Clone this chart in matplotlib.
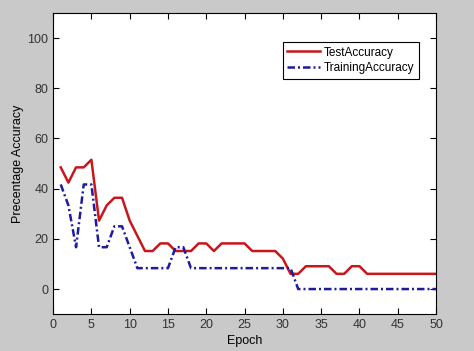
import matplotlib
matplotlib.use('Agg')
import matplotlib.pyplot as plt

plt.rcParams['font.family'] = ['Liberation Sans', 'DejaVu Sans']

epochs = list(range(1, 51))
test_acc = [48.48, 42.42, 48.48, 48.48, 51.52, 27.27, 33.33, 36.36, 36.36, 27.27,
            21.21, 15.15, 15.15, 18.18, 18.18, 15.15, 15.15, 15.15, 18.18, 18.18,
            15.15, 18.18, 18.18, 18.18, 18.18, 15.15, 15.15, 15.15, 15.15, 12.12,
            6.06, 6.06, 9.09, 9.09, 9.09, 9.09, 6.06, 6.06, 9.09, 9.09,
            6.06, 6.06, 6.06, 6.06, 6.06, 6.06, 6.06, 6.06, 6.06, 6.06]
train_acc = [41.67, 33.33, 16.67, 41.67, 41.67, 16.67, 16.67, 25.0, 25.0, 16.67,
             8.33, 8.33, 8.33, 8.33, 8.33, 16.67, 16.67, 8.33, 8.33, 8.33,
             8.33, 8.33, 8.33, 8.33, 8.33, 8.33, 8.33, 8.33, 8.33, 8.33,
             8.33, 0, 0, 0, 0, 0, 0, 0, 0, 0,
             0, 0, 0, 0, 0, 0, 0, 0, 0, 0]

fig = plt.figure(figsize=(4.74, 3.51), dpi=100, facecolor='#c9c9c9')
ax = fig.add_axes([0.112, 0.105, 0.808, 0.858])

ax.plot(epochs, test_acc, color='#c8161d', linewidth=1.8, label='TestAccuracy')
ax.plot(epochs, train_acc, color='#1c1c9c', linewidth=1.8,
        linestyle=(0, (3, 1.2, 0.8, 1.2)), label='TrainingAccuracy')

ax.set_xlim(0, 50)
ax.set_ylim(-10, 110)
ax.set_xticks(range(0, 51, 5))
ax.set_yticks(range(0, 101, 20))
ax.tick_params(direction='in', top=True, right=True, labelsize=9, length=4,
               labelcolor='#333333')
ax.set_xlabel('Epoch', fontsize=9, labelpad=3)
ax.set_ylabel('Precentage Accuracy', fontsize=9, labelpad=2)

leg = ax.legend(loc='upper right', bbox_to_anchor=(0.956, 0.904), fontsize=8.5,
                fancybox=False, framealpha=1, edgecolor='black',
                handlelength=2.8, handletextpad=0.3, borderpad=0.4,
                labelspacing=0.3, borderaxespad=0)
leg.get_frame().set_linewidth(0.8)

fig.savefig('out.png', dpi=100, facecolor=fig.get_facecolor())
